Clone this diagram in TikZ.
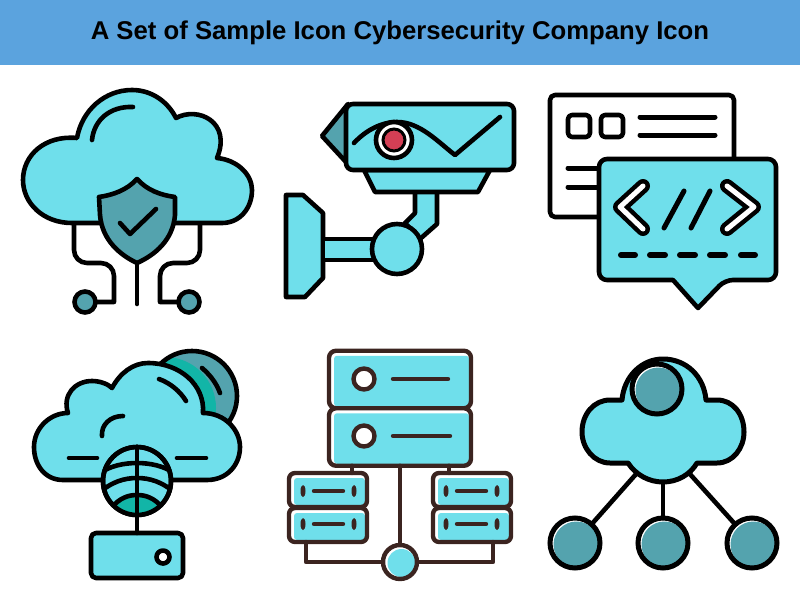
\documentclass[tikz,border=0pt]{standalone}
\usepackage{fontspec}
\setmainfont{Liberation Sans}
\usetikzlibrary{positioning, shapes.geometric}
\definecolor{iconcyan}{HTML}{6FDFEB}
\definecolor{iconteal}{HTML}{54A3AE}
\definecolor{icongreen}{HTML}{12B5A7}
\definecolor{iconred}{HTML}{D43F55}
\definecolor{titleblue}{HTML}{5BA3DE}
\definecolor{iconbrown}{HTML}{3B2420}
\tikzstyle{title} = [% heading band across the top
  rectangle,
  minimum width=800pt,
  minimum height=65pt,
  inner sep=0pt,
  fill=titleblue,
  font=\fontsize{25.7}{30}\selectfont\bfseries
  ]
\tikzstyle{outline} = [% black icon stroke
  line width=4.6pt,
  draw=black,
  line join=round,
  line cap=round
  ]
\tikzstyle{brownline} = [% brown stroke of the server icon
  line width=4.4pt,
  draw=iconbrown,
  line join=round,
  line cap=round
  ]
\tikzstyle{rack} = [% big server unit
  rectangle,
  rounded corners=7pt,
  minimum width=142pt,
  minimum height=57.5pt,
  inner sep=0pt,
  outer sep=0pt,
  brownline,
  fill=white,
  path picture={\fill[iconcyan, rounded corners=3pt]
    ([xshift=5pt, yshift=-5pt]path picture bounding box.north west) rectangle
    ([xshift=-2pt, yshift=2pt]path picture bounding box.south east);}
  ]
\tikzstyle{smallrack} = [% small server unit
  rack,
  rounded corners=6pt,
  minimum width=78pt,
  minimum height=34pt
  ]
\tikzstyle{port} = [% round port on a unit
  circle,
  minimum size=21pt,
  inner sep=0pt,
  outer sep=0pt,
  brownline,
  fill=white
  ]
\tikzstyle{led} = [% small dark lamp on a small unit
  ellipse,
  minimum width=5pt,
  minimum height=12pt,
  inner sep=0pt,
  fill=iconbrown
  ]
\tikzstyle{hub} = [% circle under the server icon
  circle,
  minimum size=34pt,
  inner sep=0pt,
  outer sep=0pt,
  brownline,
  fill=white,
  path picture={\fill[iconcyan]
    ([xshift=1.5pt, yshift=-1pt]path picture bounding box.center) circle (14pt);}
  ]
\tikzstyle{leaf} = [% teal circle of the network icon
  circle,
  minimum size=50pt,
  inner sep=0pt,
  outer sep=0pt,
  line width=5pt,
  draw=black,
  fill=white,
  path picture={\fill[iconteal]
    ([xshift=1.5pt, yshift=-1.5pt]path picture bounding box.center) circle (23pt);}
  ]
\tikzstyle{tip} = [% small teal circle at a wire end
  circle,
  minimum size=21pt,
  inner sep=0pt,
  outer sep=0pt,
  outline,
  fill=iconteal
  ]
\newcommand{\netcloud}{(610,463) .. controls (594,463) and (582,448) .. (582,432)
  .. controls (582,414) and (594,400) .. (610,400) -- (622,400)
  .. controls (624,376) and (642,359) .. (663,359)
  .. controls (686,359) and (704,376) .. (706,400) -- (717,400)
  .. controls (733,400) and (744,414) .. (744,432)
  .. controls (744,448) and (733,463) .. (717,463) -- (697,463)
  .. controls (690,475) and (677,482) .. (663,482)
  .. controls (649,482) and (636,475) .. (628,463) -- cycle}
\begin{document}
\begin{tikzpicture}[x=1pt, y=-1pt]
\useasboundingbox (0,0) rectangle (800,602);

%%% Title
\node[title] (title) at (400,32.5) {A Set of Sample Icon Cybersecurity Company Icon};

%%% Shield cloud
\node[tip] (tipleft) at (85,302) {};
\node[tip] (tipright) at (189,302) {};
\coordinate (wireleft) at (74,222);
\coordinate (wireright) at (200,222);
\coordinate (wiremid) at (137,262);
\coordinate (wireend) at (137,304);
\draw[outline, rounded corners=13pt] (wireleft) -- (74,263) -- (114,263) [sharp corners] -- (114,302) -- (tipleft);
\draw[outline, rounded corners=13pt] (wireright) -- (200,263) -- (160,263) [sharp corners] -- (160,302) -- (tipright);
\draw[outline] (wiremid) -- (wireend);
\draw[outline, fill=iconcyan] (72,223) .. controls (43,223) and (23,203) .. (23,180)
  .. controls (23,155) and (45,135) .. (77,138)
  .. controls (82,110) and (105,90) .. (132,90)
  .. controls (152,90) and (168,102) .. (176,118)
  .. controls (198,106) and (232,122) .. (217,158)
  .. controls (238,160) and (252,175) .. (252,190)
  .. controls (252,208) and (240,223) .. (222,223) -- cycle;
\draw[outline] (92,140) .. controls (94,120) and (110,106) .. (133,107);
\draw[outline, fill=iconteal] (137,179) .. controls (127,190) and (113,195) .. (99,197)
  -- (100,215) .. controls (102,240) and (120,255) .. (137,263)
  .. controls (155,255) and (173,240) .. (175,215) -- (175,197)
  .. controls (160,195) and (147,190) .. (137,179) -- cycle;
\draw[outline] (120,223) -- (130,234) -- (156,209);

%%% Camera
\draw[outline, fill=iconcyan] (286,195) -- (303,195) -- (323,213) -- (323,278) -- (305,297) -- (286,297) -- cycle;
\draw[outline, fill=iconcyan] (323,239) rectangle (375,260);
\draw[outline, fill=iconcyan] (415,190) -- (415,213) -- (405,223) -- (420,239) -- (437,224) -- (437,190) -- cycle;
\draw[outline, fill=iconcyan] (397,249) circle (25);
\draw[outline, fill=iconcyan] (364,170) -- (375,192) -- (478,192) -- (490,170) -- cycle;
\draw[outline, fill=iconteal] (348,104) -- (322,136) -- (346,162) -- cycle;
\draw[outline, fill=iconcyan, rounded corners=7pt] (346,104) rectangle (514,170);
\draw[outline] (354,143) .. controls (366,130) and (382,122) .. (397,122)
  .. controls (420,122) and (438,142) .. (455,155) -- (500,117);
\draw[outline, fill=white] (394,140) circle (18);
\draw[line width=3pt, draw=black, fill=iconred] (394,140) circle (11);

%%% Code window
\draw[outline, fill=white, rounded corners=5pt] (550,95) rectangle (734,217);
\draw[outline, rounded corners=4pt] (568,115) rectangle (590,137);
\draw[outline, rounded corners=4pt] (601,115) rectangle (623,137);
\draw[outline, line width=5pt] (640,117) -- (715,117);
\draw[outline, line width=5pt] (640,135) -- (715,135);
\draw[outline, line width=5pt] (568,168) -- (600,168);
\draw[outline, line width=5pt] (568,187) -- (600,187);
\draw[outline, fill=iconcyan, rounded corners=8pt] (599,159) -- (776,159) -- (776,280) -- (725,280)
  [sharp corners] -- (698,308) -- (673,280) [rounded corners=8pt] -- (599,280) -- cycle;
\draw[outline, line width=14pt] (643,186) -- (620,207) -- (643,229);
\draw[outline, line width=14pt] (727,186) -- (754,207) -- (727,229);
\draw[line width=5pt, white, line cap=round, line join=round] (643,186) -- (620,207) -- (643,229);
\draw[line width=5pt, white, line cap=round, line join=round] (727,186) -- (754,207) -- (727,229);
\draw[outline, line width=5pt] (684,191) -- (664,228);
\draw[outline, line width=5pt] (710,191) -- (691,228);
\draw[outline, line width=6pt] (621,255) -- (635,255);
\draw[outline, line width=6pt] (650,255) -- (665,255);
\draw[outline, line width=6pt] (680,255) -- (695,255);
\draw[outline, line width=6pt] (710,255) -- (725,255);
\draw[outline, line width=6pt] (741,255) -- (755,255);

%%% Globe cloud
\fill[iconteal] (192,396) circle (45);
\begin{scope}
  \clip (192,396) circle (45);
  \fill[icongreen] (165,408) circle (51);
\end{scope}
\draw[outline] (192,396) circle (45);
\draw[outline] (202,368) .. controls (209,374) and (216,382) .. (220,393);
\draw[outline, fill=iconcyan] (63,480) .. controls (45,480) and (34,465) .. (34,447)
  .. controls (34,428) and (50,413) .. (68,413)
  .. controls (62,395) and (75,381) .. (92,381)
  .. controls (100,381) and (108,384) .. (112,388)
  .. controls (120,373) and (133,363) .. (148,363)
  .. controls (180,363) and (205,385) .. (203,413)
  .. controls (225,413) and (240,430) .. (240,447)
  .. controls (240,465) and (227,480) .. (207,480) -- cycle;
\draw[outline] (159,379) .. controls (170,383) and (180,391) .. (186,401);
\draw[outline] (102,436) .. controls (101,425) and (110,416) .. (123,416);
\draw[outline] (69,458) -- (97,458);
\draw[outline] (177,458) -- (206,458);
\draw[outline, fill=iconcyan, rounded corners=5pt] (91,533) rectangle (183,578);
\draw[outline, fill=white] (163,557) circle (6.5);
\coordinate (stem) at (137,533);
\draw[outline, fill=iconcyan] (137,481) circle (34);
\begin{scope}
  \clip (137,481) circle (34);
  \fill[icongreen] (115,505) .. controls (122,497) and (130,495) .. (137,495)
    .. controls (145,495) and (152,497) .. (159,505) -- (159,520) -- (115,520) -- cycle;
  \draw[outline] (100,473) .. controls (110,466) and (124,463) .. (137,463)
    .. controls (150,463) and (164,466) .. (174,473);
  \draw[outline] (100,492) .. controls (112,482) and (124,478) .. (137,478)
    .. controls (150,478) and (162,482) .. (174,492);
  \draw[outline] (112,507) .. controls (120,498) and (128,495) .. (137,495)
    .. controls (146,495) and (154,498) .. (162,507);
\end{scope}
\draw[outline] (137,481) circle (34);
\draw[outline] (137,447) -- (stem);

%%% Servers
\node[rack] (rackone) at (400,379.5) {};
\node[rack] (racktwo) [below=0pt of rackone] {};
\node[smallrack] (smallone) at (328,490) {};
\node[smallrack] (smalltwo) [below=1pt of smallone] {};
\node[smallrack] (smallthree) at (472,490) {};
\node[smallrack] (smallfour) [below=1pt of smallthree] {};
\node[hub] (hub) at (400,562) {};
\node[port] (portone) at (364,379) {};
\node[port] (porttwo) at (364,436) {};
\draw[brownline] (393,379) -- (448,379);
\draw[brownline] (393,436) -- (450,436);
\node[led] (ledone) at (303,491) {};
\node[led] (ledtwo) at (354,491) {};
\node[led] (ledthree) at (303,524) {};
\node[led] (ledfour) at (354,524) {};
\node[led] (ledfive) at (446,491) {};
\node[led] (ledsix) at (497,491) {};
\node[led] (ledseven) at (446,524) {};
\node[led] (ledeight) at (497,524) {};
\draw[brownline] (314,491) -- (343,491);
\draw[brownline] (314,524) -- (343,524);
\draw[brownline] (457,491) -- (486,491);
\draw[brownline] (457,524) -- (486,524);
\draw[brownline] (racktwo.south) -- (hub.north);
\draw[brownline] ([xshift=-48pt]racktwo.south) -- ([xshift=24pt]smallone.north);
\draw[brownline] ([xshift=49pt]racktwo.south) -- ([xshift=-23pt]smallthree.north);
\draw[brownline] ([xshift=-22pt]smalltwo.south) |- (hub.west);
\draw[brownline] ([xshift=21pt]smallfour.south) |- (hub.east);

%%% Network cloud
\node[leaf] (leftleaf) at (575,543) {};
\node[leaf] (midleaf) at (663,543) {};
\node[leaf] (rightleaf) at (752,543) {};
\coordinate (cloudleft) at (637,473);
\coordinate (cloudmid) at (663,480);
\coordinate (cloudright) at (689,473);
\draw[outline] (cloudleft) -- (leftleaf);
\draw[outline] (cloudmid) -- (midleaf);
\draw[outline] (cloudright) -- (rightleaf);
\fill[white] \netcloud;
\fill[iconcyan, xshift=2pt, yshift=-1pt] \netcloud;
\draw[outline, line width=5pt] \netcloud;
\node[leaf] (topleaf) at (657,389) {};

\end{tikzpicture}
\end{document}
